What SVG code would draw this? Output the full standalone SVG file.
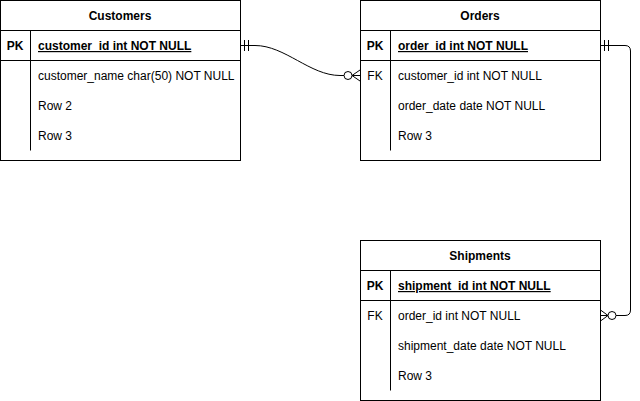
<svg xmlns="http://www.w3.org/2000/svg" width="640" height="401" viewBox="0 0 640 401">
<style>
.box{fill:#ffffff;stroke:#000000;stroke-width:1}
.ln{stroke:#000000;stroke-width:1;fill:none}
text{font-family:"Liberation Sans",Arial,Helvetica,sans-serif;font-size:12px;fill:#000000}
.h{font-weight:bold;text-anchor:middle}
.k{text-anchor:middle}
.kb{text-anchor:middle;font-weight:bold}
.pk{font-weight:bold;text-decoration:underline}
</style>
<rect width="640" height="401" fill="#ffffff"/>
<g id="connectors">
  <path class="ln" d="M240.5,45.5 L255,45.5 C285,45.5 310,75.5 340,75.5 L344,75.5"/>
  <line class="ln" x1="244.5" y1="40" x2="244.5" y2="51"/>
  <line class="ln" x1="248.5" y1="40" x2="248.5" y2="51"/>
  <circle class="ln" cx="348" cy="75.5" r="4"/>
  <path class="ln" d="M360,70 L352,75.5 L360,81 M352,75.5 L360,75.5"/>
  <path class="ln" d="M600.5,45.5 L625,45.5 Q630.5,45.5 630.5,51 L630.5,310 Q630.5,315.5 625,315.5 L616,315.5"/>
  <line class="ln" x1="604.5" y1="40" x2="604.5" y2="51"/>
  <line class="ln" x1="608.5" y1="40" x2="608.5" y2="51"/>
  <circle class="ln" cx="612" cy="315.5" r="4"/>
  <path class="ln" d="M600.5,310 L608,315.5 L600.5,321 M600.5,315.5 L608,315.5"/>
</g>
<g id="customers">
  <rect class="box" x="0.5" y="0.5" width="240" height="160"/>
  <line class="ln" x1="0.5" y1="30.5" x2="240.5" y2="30.5"/>
  <line class="ln" x1="0.5" y1="60.5" x2="240.5" y2="60.5"/>
  <line class="ln" x1="30.5" y1="30.5" x2="30.5" y2="150.5"/>
  <text class="h" x="120" y="20">Customers</text>
  <text class="kb" x="15" y="50">PK</text>
  <text class="pk" x="38" y="50">customer_id int NOT NULL</text>
  <text x="38" y="80">customer_name char(50) NOT NULL</text>
  <text x="38" y="110">Row 2</text>
  <text x="38" y="140">Row 3</text>
</g>
<g id="orders">
  <rect class="box" x="360.5" y="0.5" width="240" height="160"/>
  <line class="ln" x1="360.5" y1="30.5" x2="600.5" y2="30.5"/>
  <line class="ln" x1="360.5" y1="60.5" x2="600.5" y2="60.5"/>
  <line class="ln" x1="390.5" y1="30.5" x2="390.5" y2="150.5"/>
  <text class="h" x="480" y="20">Orders</text>
  <text class="kb" x="375" y="50">PK</text>
  <text class="pk" x="398" y="50">order_id int NOT NULL</text>
  <text class="k" x="375" y="80">FK</text>
  <text x="398" y="80">customer_id int NOT NULL</text>
  <text x="398" y="110">order_date date NOT NULL</text>
  <text x="398" y="140">Row 3</text>
</g>
<g id="shipments">
  <rect class="box" x="360.5" y="240.5" width="240" height="160"/>
  <line class="ln" x1="360.5" y1="270.5" x2="600.5" y2="270.5"/>
  <line class="ln" x1="360.5" y1="300.5" x2="600.5" y2="300.5"/>
  <line class="ln" x1="390.5" y1="270.5" x2="390.5" y2="390.5"/>
  <text class="h" x="480" y="260">Shipments</text>
  <text class="kb" x="375" y="290">PK</text>
  <text class="pk" x="398" y="290">shipment_id int NOT NULL</text>
  <text class="k" x="375" y="320">FK</text>
  <text x="398" y="320">order_id int NOT NULL</text>
  <text x="398" y="350">shipment_date date NOT NULL</text>
  <text x="398" y="380">Row 3</text>
</g>
</svg>
